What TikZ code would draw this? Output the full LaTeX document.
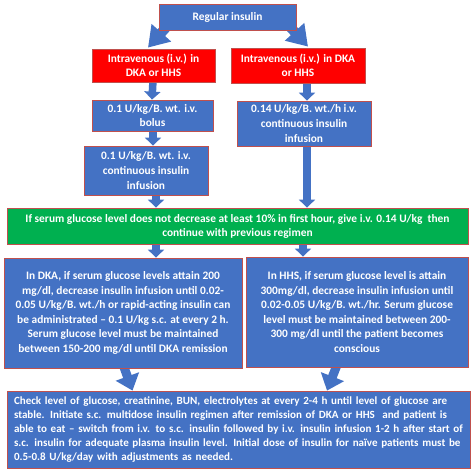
\documentclass[tikz,border=0pt]{standalone}
\usepackage{fontspec}
\setmainfont{Carlito}
\usetikzlibrary{arrows.meta}
\definecolor{pblue}{HTML}{4472C4}
\definecolor{pred}{HTML}{FF0000}
\definecolor{pgreen}{HTML}{00B050}
\definecolor{bord}{HTML}{C0504D}
\pgfdeclarelayer{bg}
\pgfsetlayers{bg,main}
\tikzset{
  box/.style={draw=bord, line width=0.8pt, fill=pblue, text=white,
    font=\bfseries\fontsize{11.4}{14.6}\selectfont, align=center, inner sep=0pt},
  redbox/.style={box, fill=pred},
  greenbox/.style={box, fill=pgreen, font=\bfseries\fontsize{11.4}{14}\selectfont},
  downarrow/.style={draw=pblue, line width=7.5pt, -{Triangle[length=8pt,width=16pt]}},
  bigarrow/.style={draw=pblue, line width=10pt, -{Triangle[length=20pt,width=25pt]}},
  tiltarrow/.style={draw=pblue, line width=9pt, -{Triangle[length=15pt,width=24pt]}}
}
\begin{document}
\begin{tikzpicture}[x=1pt,y=-1pt]
\useasboundingbox (0,0) rectangle (474,473);
\node[box, minimum width=137pt, minimum height=26pt] (reg) at (227.5,17) {Regular insulin};
\node[redbox, minimum width=123pt, minimum height=33pt] (redL) at (153.5,65.5) {Intravenous (i.v.) in\\DKA or HHS};
\node[redbox, minimum width=134pt, minimum height=35pt] (redR) at (298,65.5) {Intravenous (i.v.) in DKA\\or HHS};
\node[box, minimum width=121pt, minimum height=31pt] (bolus) at (152.5,115.5) {0.1 U/kg/B. wt. i.v.\\bolus};
\node[box, minimum width=124pt, minimum height=49pt] (contL) at (146,170.5) {0.1 U/kg/B. wt. i.v.\\continuous insulin\\infusion};
\node[box, minimum width=134pt, minimum height=45pt] (contR) at (304,123.5) {0.14 U/kg/B. wt./h i.v.\\continuous insulin\\infusion};
\node[greenbox, minimum width=461pt, minimum height=36pt] (green) at (237.5,226) {If serum glucose level does not decrease at least 10\% in first hour, give i.v. 0.14 U/kg~ then\\continue with previous regimen};
\node[box, minimum width=238pt, minimum height=110pt] (dka) at (123,313) {In DKA, if serum glucose levels attain 200\\mg/dl, decrease insulin infusion until 0.02-\\0.05 U/kg/B. wt./h or rapid-acting insulin can\\be administrated -- 0.1 U/kg s.c. at every 2 h.\\Serum glucose level must be maintained\\between 150-200 mg/dl until DKA remission};
\node[box, minimum width=222pt, minimum height=110pt] (hhs) at (357,312) {In HHS, if serum glucose level is attain\\300mg/dl, decrease insulin infusion until\\0.02-0.05 U/kg/B. wt./hr. Serum glucose\\level must be maintained between 200-\\300 mg/dl until the patient becomes\\conscious};
\node[box, font=\bfseries\fontsize{11.05}{14}\selectfont, minimum width=463pt, minimum height=77pt, text width=449pt, align=left] (final) at (238.5,429.5) {\makebox[449pt][s]{Check level of glucose, creatinine, BUN, electrolytes at every 2-4 h until level of glucose are}\\
\makebox[449pt][s]{stable. Initiate s.c. multidose insulin regimen after remission of DKA or HHS~ and patient is}\\
\makebox[449pt][s]{able to eat -- switch from i.v. to s.c. insulin followed by i.v. insulin infusion 1-2 h after start of}\\
\makebox[449pt][s]{s.c. insulin for adequate plasma insulin level. Initial dose of insulin for naïve patients must be}\\
0.5-0.8 U/kg/day with adjustments as needed.};
\begin{pgfonlayer}{bg}
\draw[bigarrow] ([xshift=-52pt]reg.center) -- ([xshift=-5.5pt,yshift=1pt]redL.north);
\draw[bigarrow] ([xshift=53.5pt]reg.center) -- ([xshift=10pt,yshift=1pt]redR.north);
\draw[downarrow] ([xshift=-0.5pt,yshift=2pt]redL.south) -- ([xshift=-0.5pt]bolus.north);
\draw[downarrow] ([xshift=0.5pt,yshift=2pt]bolus.south) -- ([xshift=7pt]contL.north);
\draw[downarrow] ([xshift=9pt,yshift=2pt]redR.south) -- ([xshift=3pt]contR.north);
\draw[downarrow] ([xshift=3pt,yshift=2pt]contR.south) -- ([xshift=69.5pt]green.north);
\draw[downarrow] ([xshift=10pt,yshift=2pt]contL.south) -- ([xshift=-81.5pt]green.north);
\draw[downarrow] ([xshift=-81.5pt,yshift=2pt]green.south) -- ([xshift=33pt]dka.north);
\draw[downarrow] ([xshift=65.5pt,yshift=2pt]green.south) -- ([xshift=-54pt]hhs.north);
\draw[tiltarrow] ([yshift=4pt]dka.south) -- ([xshift=-106pt]final.north);
\draw[tiltarrow] ([xshift=-19pt,yshift=5pt]hhs.south) -- ([xshift=88.5pt]final.north);
\end{pgfonlayer}
\end{tikzpicture}
\end{document}
